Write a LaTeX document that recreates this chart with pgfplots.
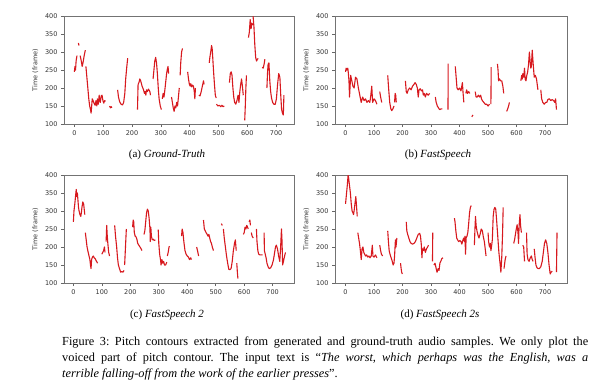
\documentclass[border=0pt]{standalone}
\usepackage{pgfplots}
\pgfplotsset{compat=1.18}
\usepackage{fontspec}
\setmainfont{Liberation Serif}
\newfontfamily\dejavu{DejaVu Sans}
\definecolor{pitch}{RGB}{215,25,30}
\pgfplotsset{pc/.style={scale only axis, height=108pt, ymin=100, ymax=400,
  ytick={100,150,...,400}, xtick={0,100,...,700},
  axis line style={black!55, line width=0.8pt},
  tick align=outside, tick pos=left, major tick length=3pt,
  tick style={black!60, line width=0.6pt},
  tick label style={font=\dejavu\fontsize{6.5}{7}\selectfont, text=black!80},
  /pgf/number format/assume math mode=true,
  ylabel={Time (frame)},
  ylabel style={font=\dejavu\fontsize{6.5}{7}\selectfont, text=black!80},
  unbounded coords=jump},
  pl/.style={pitch, line width=1.1pt, line join=round, no marks}}
\begin{document}
\frenchspacing
\begin{tikzpicture}
\path[use as bounding box] (0,0) rectangle (600pt,-389pt);
% (a) Ground-Truth
\begin{axis}[pc, at={(64pt,-16pt)}, anchor=north west, width=230pt, xmin=-36, xmax=762]
\addplot[pl] coordinates {(0,245) (2,260) (4,250) (6,275) (9,290) (10,nan)
(14,325) (16,318) (17,nan)
(20,290) (24,275) (27,260) (30,270) (34,290) (38,305) (39,nan)
(40,260) (45,215) (50,170) (53,150) (56,140) (58,130) (60,150) (62,170) (65,165) (68,158) (72,152) (75,165) (78,150) (80,170) (83,155) (86,180) (88,165) (90,160) (93,178) (96,180) (99,165) (102,158) (105,165) (108,163) (109,nan)
(122,150) (125,145) (128,148) (130,145) (131,nan)
(150,195) (153,175) (157,162) (162,155) (167,153) (171,160) (175,185) (178,225) (182,260) (185,283) (186,nan)
(219,140) (221,210) (224,215) (227,225) (230,220) (235,205) (240,195) (243,185) (245,190) (248,180) (250,195) (253,190) (257,197) (262,190) (264,180) (265,nan)
(273,225) (276,250) (279,275) (282,285) (285,270) (288,240) (291,200) (294,170) (298,150) (302,140) (303,nan)
(305,170) (308,185) (311,175) (314,195) (318,225) (320,240) (322,250) (325,260) (327,240) (328,nan)
(337,175) (340,160) (343,145) (346,135) (349,150) (352,145) (355,160) (358,150) (361,175) (364,200) (365,nan)
(367,235) (369,270) (372,300) (375,310) (376,nan)
(393,245) (396,225) (399,210) (402,205) (404,212) (407,203) (410,208) (413,205) (416,190) (418,170) (420,200) (421,nan)
(432,180) (436,178) (440,190) (444,205) (448,220) (450,210) (451,nan)
(468,270) (470,285) (473,300) (476,318) (478,310) (480,285) (483,245) (486,210) (489,180) (492,172) (492.5,nan)
(493,155) (498,150) (503,152) (508,148) (512,152) (516,148) (520,150) (521,nan)
(538,215) (541,240) (544,245) (547,235) (550,200) (553,175) (556,160) (560,155) (564,165) (568,180) (571,160) (574,190) (577,210) (580,225) (583,205) (586,180) (587,nan)
(591,110) (593,150) (595,200) (597,235) (598,nan)
(604,340) (607,355) (610,390) (613,365) (616,380) (619,375) (619.5,nan)
(620,400) (623,370) (626,320) (629,285) (632,275) (635,280) (638,282) (639,nan)
(652,258) (655,255) (658,265) (661,280) (662,nan)
(668,200) (670,240) (672,265) (675,270) (678,220) (681,190) (684,172) (688,160) (692,155) (697,155) (701,170) (705,210) (709,240) (713,230) (716,180) (719,140) (722,130) (725,125) (727,180)};
\end{axis}
% (b) FastSpeech
\begin{axis}[pc, at={(335pt,-16pt)}, anchor=north west, width=232pt, xmin=-37, xmax=777]
\addplot[pl] coordinates {(0,245) (2,255) (5,250) (8,255) (10,240) (12,220) (14,175) (18,235) (22,220) (26,205) (30,200) (35,230) (40,225) (45,200) (50,180) (55,160) (60,175) (65,165) (70,170) (75,160) (80,165) (85,160) (88,175) (92,205) (95,160) (100,170) (105,165) (110,155) (111,nan)
(120,190) (123,175) (127,160) (128,nan)
(148,235) (151,200) (155,160) (159,142) (162,137) (166,142) (170,150) (171,nan)
(172,160) (174,185) (176,180) (178,160) (179,nan)
(210,220) (213,190) (216,185) (220,195) (225,200) (230,195) (235,205) (240,210) (244,215) (248,210) (252,200) (255,175) (258,195) (262,198) (266,192) (270,195) (273,180) (276,185) (280,175) (284,185) (290,180) (295,185) (296,nan)
(315,175) (318,160) (322,150) (326,145) (330,140) (335,142) (340,142) (341,nan)
(359.5,140) (360,268) (361,nan)
(385,260) (388,230) (391,200) (395,195) (400,200) (405,192) (410,215) (412,190) (415,160) (416,nan)
(422,185) (425,195) (428,185) (432,190) (436,185) (437,nan)
(443,120) (447,125) (448,nan)
(455,190) (458,175) (462,175) (466,180) (470,175) (474,180) (477,170) (480,165) (485,160) (490,155) (495,155) (500,150) (505,155) (506,nan)
(510,155) (511,258) (512,nan)
(533,267) (535,250) (537,220) (540,225) (544,220) (548,220) (552,205) (555,185) (556,nan)
(565,135) (568,140) (572,150) (575,160) (576,nan)
(615,220) (618,235) (620,225) (622,240) (625,230) (628,255) (630,225) (633,220) (636,235) (639,245) (642,265) (645,300) (648,270) (650,255) (652,260) (655,305) (658,270) (662,230) (666,235) (670,225) (675,195) (676,nan)
(685,195) (688,170) (692,160) (697,155) (702,160) (706,160) (710,168) (715,170) (720,165) (725,168) (730,165) (734,160) (737,170) (740,140)};
\end{axis}
% (c) FastSpeech 2
\begin{axis}[pc, at={(64pt,-175pt)}, anchor=north west, width=230pt, xmin=-33, xmax=775]
\addplot[pl] coordinates {(0,270) (2,300) (5,320) (8,345) (10,360) (12,340) (14,350) (16,330) (18,310) (20,300) (23,290) (26,285) (28,295) (30,310) (33,325) (36,320) (38,305) (40,290) (41,nan)
(42,240) (45,220) (48,200) (52,185) (55,175) (58,165) (60,150) (62,140) (64,165) (67,172) (70,175) (73,170) (76,168) (80,162) (85,155) (86,nan)
(100,180) (103,185) (106,190) (109,200) (111,185) (112,nan)
(115,215) (117,260) (119,230) (121,210) (124,185) (127,175) (128,nan)
(145,260) (148,230) (152,200) (155,170) (158,150) (162,140) (166,130) (170,132) (174,130) (178,135) (179,nan)
(180,150) (183,200) (186,250) (187,nan)
(208,255) (210,275) (212,270) (214,240) (217,230) (220,228) (223,222) (226,210) (230,205) (234,200) (238,195) (241,190) (242,nan)
(248,235) (251,245) (254,270) (257,295) (260,305) (263,300) (266,280) (269,250) (270,215) (272,255) (274,230) (277,220) (280,222) (284,218) (288,220) (289,nan)
(298,248) (300,210) (303,180) (306,165) (308,150) (311,165) (314,155) (317,160) (320,150) (324,150) (328,158) (329,nan)
(330,175) (333,185) (336,200) (338,202) (339,nan)
(380,230) (382,250) (385,240) (388,215) (392,190) (396,180) (400,175) (404,172) (408,165) (412,170) (415,165) (416,nan)
(433,200) (436,190) (440,175) (441,nan)
(457,275) (460,250) (463,245) (466,240) (470,235) (473,230) (476,235) (479,225) (482,215) (485,210) (488,200) (492,190) (493,nan)
(520,265) (523,260) (524,nan)
(527,250) (530,225) (534,200) (538,175) (542,155) (546,138) (550,137) (554,140) (558,160) (562,190) (566,210) (569,220) (572,190) (572.5,nan)
(574,155) (576,130) (578,112) (579,nan)
(597,235) (600,240) (603,255) (606,250) (609,260) (612,255) (614,250) (615,nan)
(617,270) (620,275) (622,260) (624,nan)
(625,240) (628,230) (632,225) (633,nan)
(643,250) (645,215) (648,190) (651,180) (655,178) (660,178) (665,178) (666,nan)
(670,240) (671,190) (674,180) (677,170) (680,155) (684,145) (688,140) (693,142) (698,150) (703,165) (707,185) (710,200) (713,205) (717,195) (721,175) (725,160) (728,200) (731,250) (733,215) (735,150) (738,160) (742,175) (745,185)};
\end{axis}
% (d) FastSpeech 2s
\begin{axis}[pc, at={(335pt,-175pt)}, anchor=north west, width=232pt, xmin=-37, xmax=777]
\addplot[pl] coordinates {(0,320) (3,345) (6,370) (9,400) (11,390) (14,370) (17,350) (20,320) (23,300) (26,295) (28,290) (30,300) (33,320) (36,340) (38,320) (41,285) (42,nan)
(43,240) (46,225) (49,210) (52,190) (55,165) (58,195) (61,200) (64,185) (67,180) (70,175) (74,178) (78,172) (82,175) (86,170) (90,175) (94,205) (96,175) (100,172) (105,178) (110,170) (111,nan)
(120,205) (123,190) (126,180) (130,175) (131,nan)
(148,245) (150,220) (153,190) (156,180) (160,170) (164,160) (167,150) (170,155) (172,175) (175,220) (177,200) (180,225) (181,nan)
(193,155) (195,140) (197,130) (199,125) (200,nan)
(213,270) (215,245) (218,235) (222,225) (226,215) (230,210) (235,208) (240,210) (245,215) (250,225) (255,235) (260,238) (263,230) (266,205) (268,170) (270,195) (273,190) (276,200) (280,185) (284,195) (288,200) (291,205) (292,nan)
(305,160) (306,240) (307,nan)
(310,150) (314,155) (318,140) (321,130) (325,140) (328,135) (331,155) (334,160) (338,168) (342,170) (343,nan)
(382,280) (384,270) (387,245) (390,225) (393,220) (397,215) (401,218) (405,215) (408,208) (412,220) (415,225) (417,215) (419,230) (421,180) (423,225) (426,230) (429,240) (432,265) (435,295) (438,310) (441,315) (442,nan)
(452,205) (454,250) (456,285) (458,260) (461,245) (464,235) (468,225) (472,235) (476,250) (480,245) (483,230) (487,215) (490,195) (493,175) (494,nan)
(500,240) (502,215) (505,200) (508,210) (510,190) (512,200) (515,220) (518,285) (521,305) (524,310) (527,305) (530,275) (534,230) (538,185) (542,155) (545,130) (548,170) (551,240) (553,310) (554,nan)
(556,140) (560,165) (563,175) (564,nan)
(590,210) (593,220) (596,235) (599,250) (602,262) (605,240) (607,210) (609,260) (612,290) (614,260) (617,240) (618,nan)
(622,205) (625,200) (628,160) (629,nan)
(635,240) (637,180) (640,165) (644,160) (648,170) (652,175) (655,165) (658,160) (659,nan)
(662,195) (665,170) (668,150) (672,142) (676,140) (680,140) (685,145) (690,160) (694,185) (698,210) (702,220) (706,210) (710,185) (714,150) (718,125) (721,130) (725,133) (726,nan)
(740,130) (742,240)};
\end{axis}
% sub-captions
\node[font=\fontsize{11}{13}\selectfont] at (167pt,-155pt) {(a) \textit{Ground-Truth}};
\node[font=\fontsize{11}{13}\selectfont] at (438pt,-155pt) {(b) \textit{FastSpeech}};
\node[font=\fontsize{11}{13}\selectfont] at (167pt,-315pt) {(c) \textit{FastSpeech 2}};
\node[font=\fontsize{11}{13}\selectfont] at (440pt,-315pt) {(d) \textit{FastSpeech 2s}};
% caption
\node[anchor=north west, inner sep=0pt, text width=526pt, align=justify, font=\fontsize{12.3}{16}\selectfont\frenchspacing] at (62pt,-337pt)
{Figure 3: Pitch contours extracted from generated and ground-truth audio samples. We only plot the\linebreak voiced part of pitch contour. The input text is ``\textit{The worst, which perhaps was the English, was a}\linebreak \textit{terrible falling-off from the work of the earlier presses}''.};
\end{tikzpicture}
\end{document}
